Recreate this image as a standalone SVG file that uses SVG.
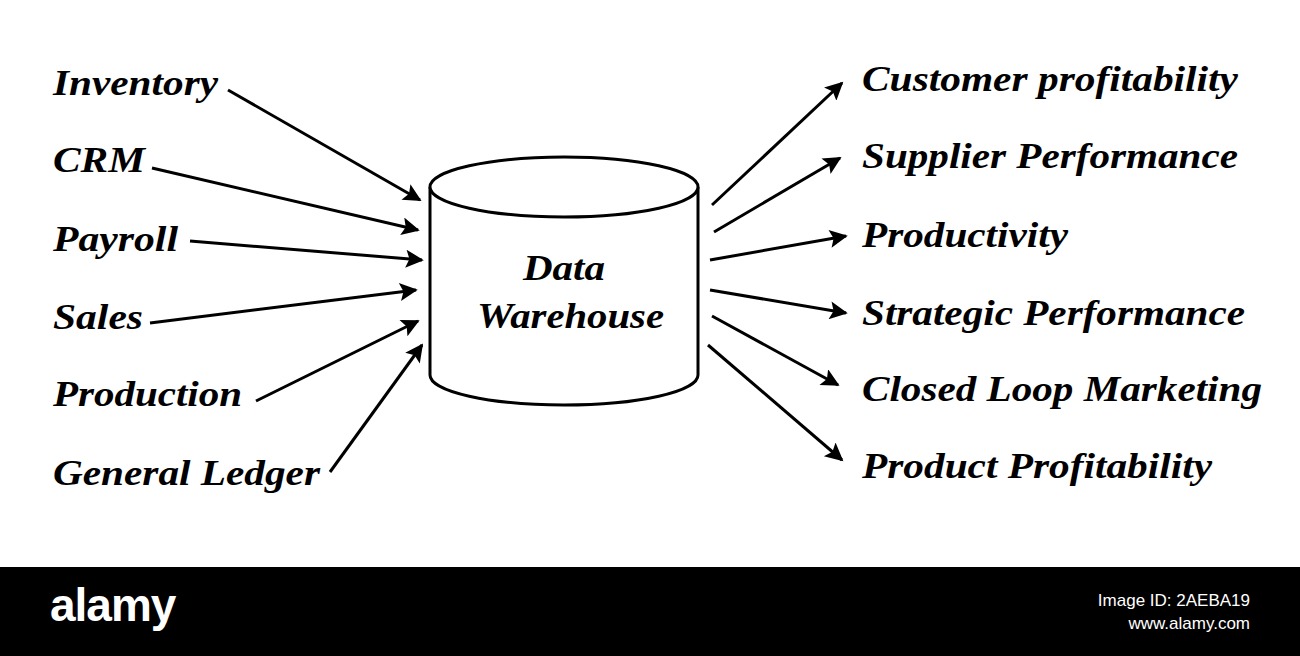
<svg xmlns="http://www.w3.org/2000/svg" width="1300" height="656" viewBox="0 0 1300 656">
<style>
.l{font-family:"Liberation Serif",serif;font-weight:bold;font-style:italic;font-size:36px;fill:#000}
.c{stroke:#000;stroke-width:3;fill:none;marker-end:url(#b)}
.w{font-family:"Liberation Sans",sans-serif;fill:#fff}
</style>
<defs>
<marker id="b" viewBox="0 0 10 10" refX="9" refY="5" markerWidth="26" markerHeight="18" markerUnits="userSpaceOnUse" orient="auto"><path d="M0,0L10,5L0,10L2,5z" fill="#000"/></marker></defs>
<rect width="1300" height="656" fill="#fff"/>
<g id="connectors">
<path class="c" d="M228,90L420,200"/>
<path class="c" d="M152,168L418,230"/>
<path class="c" d="M190,241L422,260"/>
<path class="c" d="M150,323L416,290"/>
<path class="c" d="M256,401L418,321"/>
<path class="c" d="M330,472L422,345"/>
<path class="c" d="M712,205L842,83"/>
<path class="c" d="M714,232L840,158"/>
<path class="c" d="M710,260L846,236"/>
<path class="c" d="M710,290L846,313"/>
<path class="c" d="M712,316L838,385"/>
<path class="c" d="M708,345L842,460"/>
</g>
<g id="warehouse">
<path d="M430,187V375A134,30 0 0 0 698,375V187" fill="#fff" stroke="#000" stroke-width="3"/>
<ellipse cx="564" cy="187" rx="134" ry="30" fill="#fff" stroke="#000" stroke-width="3"/>
<text class="l" x="523" y="280" textLength="82" lengthAdjust="spacingAndGlyphs">Data</text>
<text class="l" x="477" y="328" textLength="187" lengthAdjust="spacingAndGlyphs">Warehouse</text>
</g>
<g id="inventory"><text class="l" x="53" y="95" textLength="165" lengthAdjust="spacingAndGlyphs">Inventory</text></g>
<g id="crm"><text class="l" x="53" y="172" textLength="92" lengthAdjust="spacingAndGlyphs">CRM</text></g>
<g id="payroll"><text class="l" x="53" y="251" textLength="125" lengthAdjust="spacingAndGlyphs">Payroll</text></g>
<g id="sales"><text class="l" x="53" y="329" textLength="90" lengthAdjust="spacingAndGlyphs">Sales</text></g>
<g id="production"><text class="l" x="53" y="406" textLength="189" lengthAdjust="spacingAndGlyphs">Production</text></g>
<g id="ledger"><text class="l" x="53" y="485" textLength="267" lengthAdjust="spacingAndGlyphs">General Ledger</text></g>
<g id="r1"><text class="l" x="862" y="91" textLength="376" lengthAdjust="spacingAndGlyphs">Customer profitability</text></g>
<g id="r2"><text class="l" x="862" y="168" textLength="376" lengthAdjust="spacingAndGlyphs">Supplier Performance</text></g>
<g id="r3"><text class="l" x="862" y="247" textLength="206" lengthAdjust="spacingAndGlyphs">Productivity</text></g>
<g id="r4"><text class="l" x="862" y="325" textLength="383" lengthAdjust="spacingAndGlyphs">Strategic Performance</text></g>
<g id="r5"><text class="l" x="862" y="401" textLength="400" lengthAdjust="spacingAndGlyphs">Closed Loop Marketing</text></g>
<g id="r6"><text class="l" x="862" y="478" textLength="350" lengthAdjust="spacingAndGlyphs">Product Profitability</text></g>
<g id="bar">
<rect y="567" width="1300" height="89" fill="#000"/>
<text class="w" x="50" y="621" font-size="46" font-weight="bold" letter-spacing="-1">alamy</text>
<text class="w" x="1250" y="606" font-size="17" text-anchor="end">Image ID: 2AEBA19</text>
<text class="w" x="1250" y="629" font-size="17" text-anchor="end">www.alamy.com</text>
</g>
</svg>
